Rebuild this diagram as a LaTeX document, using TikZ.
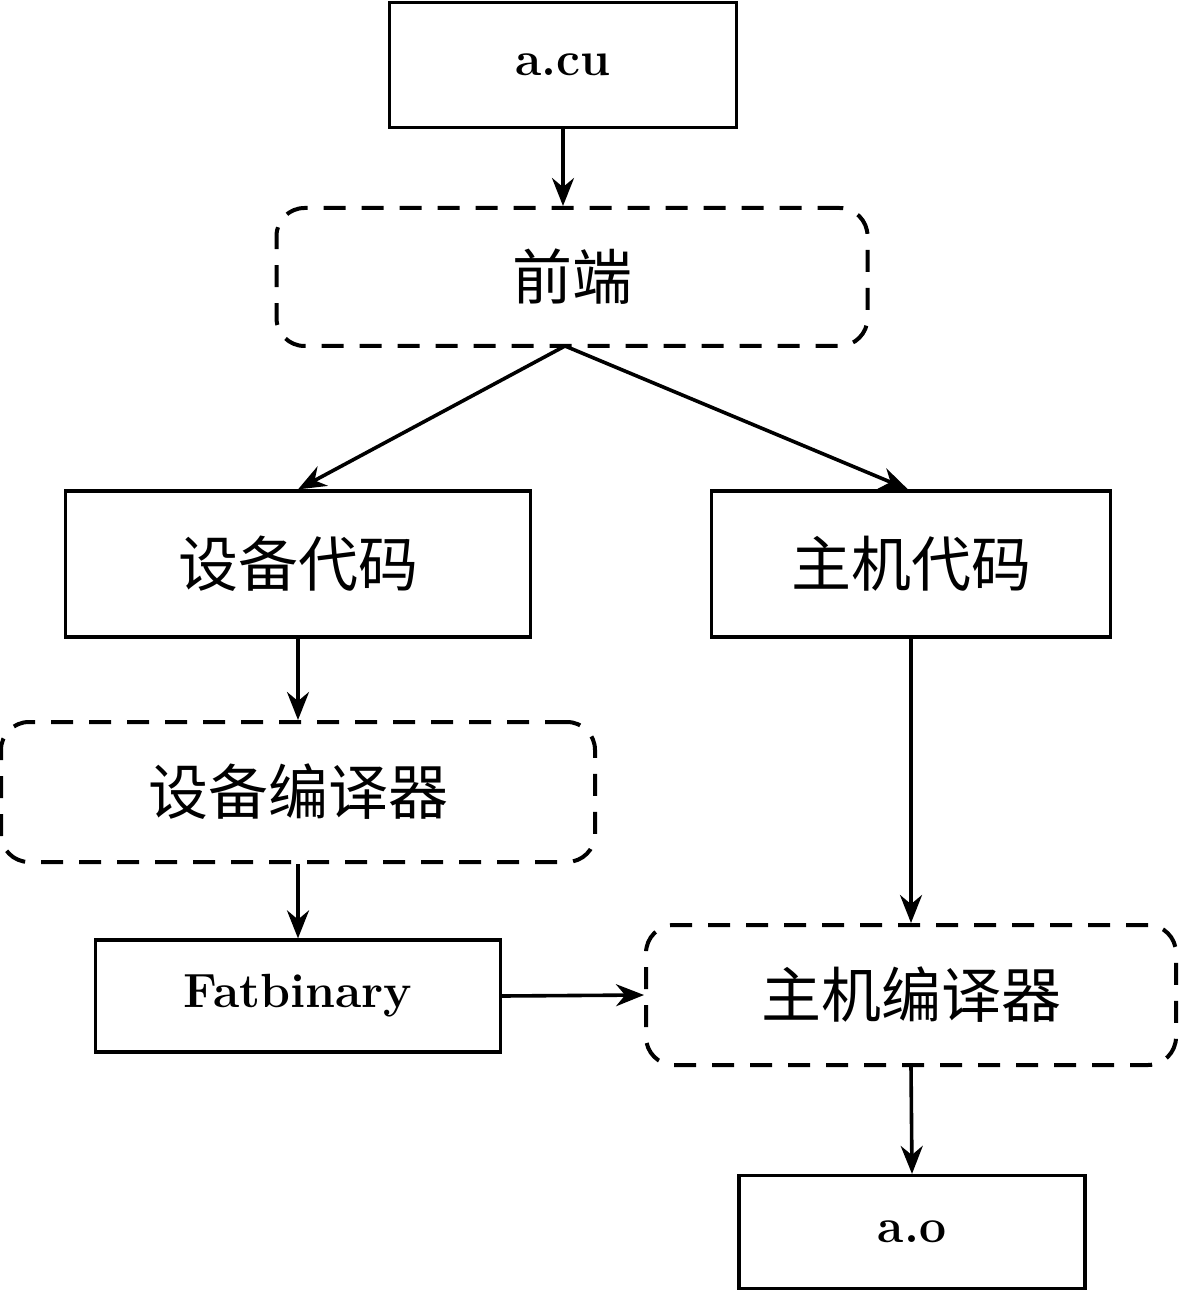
\documentclass[tikz,border=0pt]{standalone}
\usepackage{fontspec}
\newfontfamily\cjk{Noto Sans CJK SC}
\usetikzlibrary{arrows.meta}
\begin{document}
\begin{tikzpicture}[x=0.5pt,y=-0.5pt,
    box/.style={draw,line width=1.6pt,inner sep=0pt},
    dbox/.style={draw,line width=2pt,dash pattern=on 11pt off 8pt,rounded corners=14pt,inner sep=0pt},
    lat/.style={font=\fontsize{24}{28}\selectfont\bfseries},
    zh/.style={font=\cjk\fontsize{30}{34}\selectfont},
    arr/.style={line width=1.8pt,-{Stealth[length=14pt,width=11pt]}}]
  \useasboundingbox (0,0) rectangle (1180,1293);
  \node[box,lat,minimum width=173.5pt,minimum height=62.5pt] (acu) at (563,65) {a.cu};
  \node[dbox,zh,minimum width=295.5pt,minimum height=69pt] (fe) at (572,277) {前端};
  \node[box,zh,minimum width=232.5pt,minimum height=73pt] (dev) at (298,564) {设备代码};
  \node[box,zh,minimum width=199.5pt,minimum height=73pt] (host) at (911,564) {主机代码};
  \node[dbox,zh,minimum width=297pt,minimum height=70pt] (dcc) at (298,792) {设备编译器};
  \node[box,lat,font=\fontsize{24}{28}\selectfont\bfseries,minimum width=202.5pt,minimum height=56pt] (fat) at (298,996) {Fatbinary};
  \node[dbox,zh,minimum width=265pt,minimum height=70pt] (hcc) at (911,995) {主机编译器};
  \node[box,lat,minimum width=173pt,minimum height=56.5pt] (ao) at (912,1232) {a.o};
  \draw[arr] (acu.south) -- (fe.north -| acu.south);
  \coordinate (fs) at (565,346);
  \draw[arr] (fs) -- (dev.north);
  \draw[arr] (fs) -- (host.north -| 908,0);
  \draw[arr] (dev.south) -- (dcc.north);
  \draw[arr] (dcc.south) -- (fat.north);
  \draw[arr] (host.south) -- (hcc.north);
  \draw[arr] (fat.east) -- (hcc.west);
  \draw[arr] (hcc.south) -- (ao.north);
\end{tikzpicture}
\end{document}
